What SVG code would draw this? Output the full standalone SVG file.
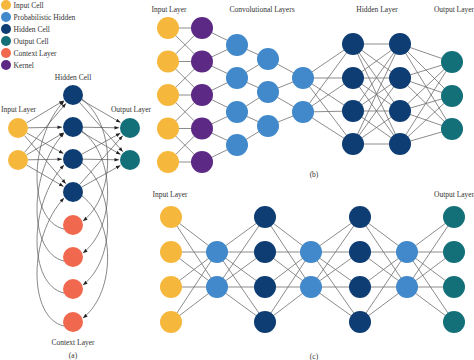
<svg xmlns="http://www.w3.org/2000/svg" width="474" height="360" viewBox="0 0 474 360">
<style>
text{font-family:"Liberation Serif","Times New Roman",serif;font-size:7.5px;fill:#333}
.m{text-anchor:middle}
.in{fill:#F6B83C}
.ph{fill:#4189CB}
.hd{fill:#0E3D73}
.out{fill:#137079}
.ctx{fill:#F0694E}
.ker{fill:#5C2A85}
.ln{fill:none;stroke:#6e6e6e;stroke-width:0.8}
.ar{fill:none;stroke:#555;stroke-width:0.7;marker-end:url(#arr)}
</style>
<defs>
<marker id="arr" viewBox="0 0 10 10" refX="10" refY="5" markerWidth="5" markerHeight="4.5" markerUnits="userSpaceOnUse" orient="auto"><path d="M0 1L10 5L0 9z" fill="#222"/></marker>
</defs>
<rect width="474" height="360" fill="#fff"/>
<g id="legend">
<g id="lg-input"><circle class="in" cx="6" cy="5" r="5"/><text x="13.5" y="7.5">Input Cell</text></g>
<g id="lg-prob"><circle class="ph" cx="6" cy="17" r="5"/><text x="13.5" y="19.5">Probabilistic Hidden</text></g>
<g id="lg-hidden"><circle class="hd" cx="6" cy="29" r="5"/><text x="13.5" y="31.5">Hidden Cell</text></g>
<g id="lg-output"><circle class="out" cx="6" cy="41" r="5"/><text x="13.5" y="43.5">Output Cell</text></g>
<g id="lg-context"><circle class="ctx" cx="6" cy="53" r="5"/><text x="13.5" y="55.5">Context Layer</text></g>
<g id="lg-kernel"><circle class="ker" cx="6" cy="65" r="5"/><text x="13.5" y="67.5">Kernel</text></g>
</g>
<g id="labels">
<text class="m" x="73" y="79.5">Hidden Cell</text>
<text class="m" x="18.5" y="111.5">Input Layer</text>
<text class="m" x="131" y="111.5">Output Layer</text>
<text class="m" x="73" y="344.5">Context Layer</text>
<text class="m" x="73" y="357.5">(a)</text>
<text class="m" x="169" y="11.5">Input Layer</text>
<text class="m" x="262" y="11.5">Convolutional Layers</text>
<text class="m" x="377" y="11.5">Hidden Layer</text>
<text class="m" x="454" y="11.5">Output Layer</text>
<text class="m" x="314" y="176.5">(b)</text>
<text class="m" x="170" y="196.5">Input Layer</text>
<text x="434" y="196.5">Output Layer</text>
<text class="m" x="314" y="359">(c)</text>
</g>
<g id="connectors">
<!-- (a) -->
<path class="ar" d="M26.6 122.9L63.6 100.7"/>
<path class="ar" d="M28 127.8L62 127.2"/>
<path class="ar" d="M26.7 132.9L63.4 153.6"/>
<path class="ar" d="M24.5 135.6L65.8 183.7"/>
<path class="ar" d="M24.5 152.4L65.9 103.4"/>
<path class="ar" d="M26.6 154.9L63.6 132.7"/>
<path class="ar" d="M28 159.8L62 159.2"/>
<path class="ar" d="M26.6 165L63.5 186.5"/>
<path class="ar" d="M81.6 100L120.5 122.5"/>
<path class="ar" d="M79.6 102.5L122.8 151.7"/>
<path class="ar" d="M83 127.2L119 127.8"/>
<path class="ar" d="M81.6 132L120.5 154.5"/>
<path class="ar" d="M81.8 154.2L120.3 133.3"/>
<path class="ar" d="M83 159.2L119 159.8"/>
<path class="ar" d="M79.7 184.5L122.7 135.8"/>
<path class="ar" d="M81.7 187.1L120.4 165.4"/>
<path class="ar" d="M82 99C116 125 116 195 83 221"/>
<path class="ar" d="M82 131C116 157 116 227 83 253"/>
<path class="ar" d="M82 163C116 189 116 259 83 285"/>
<path class="ar" d="M82 196C116 222 116 292 83 318"/>
<path class="ar" d="M64 229C28 221 28 140 64 101"/>
<path class="ar" d="M64 261C28 253 28 172 64 133"/>
<path class="ar" d="M64 293C28 285 28 204 64 165"/>
<path class="ar" d="M64 326C28 318 28 237 64 198"/>
<!-- (b) -->
<path class="ln" d="M168 28L202 28M168 61.5L202 61.5M168 95L202 95M168 128.5L202 128.5M168 162L202 162M168 28L202 61.5M168 61.5L202 95M168 95L202 128.5M168 128.5L202 162M168 61.5L202 28M168 95L202 61.5M168 128.5L202 95M168 162L202 128.5"/>
<path class="ln" d="M202 28L237 45M202 61.5L237 45M202 61.5L237 78M202 95L237 78M202 95L237 112M202 128.5L237 112M202 128.5L237 145M202 162L237 145"/>
<path class="ln" d="M237 45L268 59M237 78L268 59M237 78L268 92M237 112L268 92M237 112L268 126M237 145L268 126"/>
<path class="ln" d="M268 59L303 78M268 92L303 78M268 92L303 112M268 126L303 112"/>
<path class="ln" d="M303 78L353 44M303 78L353 78M303 78L353 111M303 78L353 144M303 112L353 44M303 112L353 78M303 112L353 111M303 112L353 144"/>
<path class="ln" d="M353 44L400 44M353 44L400 78M353 44L400 111M353 44L400 144M353 78L400 44M353 78L400 78M353 78L400 111M353 78L400 144M353 111L400 44M353 111L400 78M353 111L400 111M353 111L400 144M353 144L400 44M353 144L400 78M353 144L400 111M353 144L400 144"/>
<path class="ln" d="M400 44L452 62M400 44L452 96M400 44L452 129M400 78L452 62M400 78L452 96M400 78L452 129M400 111L452 62M400 111L452 96M400 111L452 129M400 144L452 62M400 144L452 96M400 144L452 129"/>
<!-- (c) -->
<path class="ln" d="M171 217L217 252M171 217L217 287M171 252L217 252M171 252L217 287M171 287L217 252M171 287L217 287M171 322L217 252M171 322L217 287"/>
<path class="ln" d="M217 252L265 217M217 252L265 252M217 252L265 287M217 252L265 322M217 287L265 217M217 287L265 252M217 287L265 287M217 287L265 322"/>
<path class="ln" d="M265 217L311 252M265 217L311 287M265 252L311 252M265 252L311 287M265 287L311 252M265 287L311 287M265 322L311 252M265 322L311 287"/>
<path class="ln" d="M311 252L360 217M311 252L360 252M311 252L360 287M311 252L360 322M311 287L360 217M311 287L360 252M311 287L360 287M311 287L360 322"/>
<path class="ln" d="M360 217L407 252M360 217L407 287M360 252L407 252M360 252L407 287M360 287L407 252M360 287L407 287M360 322L407 252M360 322L407 287"/>
<path class="ln" d="M407 252L454 217M407 252L454 252M407 252L454 287M407 252L454 322M407 287L454 217M407 287L454 252M407 287L454 287M407 287L454 322"/>
</g>
<g id="nodes-a">
<g id="a-in1"><circle class="in" cx="18" cy="128" r="10"/></g>
<g id="a-in2"><circle class="in" cx="18" cy="160" r="10"/></g>
<g id="a-h1"><circle class="hd" cx="73" cy="95" r="10"/></g>
<g id="a-h2"><circle class="hd" cx="73" cy="127" r="10"/></g>
<g id="a-h3"><circle class="hd" cx="73" cy="159" r="10"/></g>
<g id="a-h4"><circle class="hd" cx="73" cy="192" r="10"/></g>
<g id="a-o1"><circle class="out" cx="130" cy="128" r="10"/></g>
<g id="a-o2"><circle class="out" cx="130" cy="160" r="10"/></g>
<g id="a-c1"><circle class="ctx" cx="73" cy="225" r="10"/></g>
<g id="a-c2"><circle class="ctx" cx="73" cy="257" r="10"/></g>
<g id="a-c3"><circle class="ctx" cx="73" cy="289" r="10"/></g>
<g id="a-c4"><circle class="ctx" cx="73" cy="322" r="10"/></g>
</g>
<g id="nodes-b">
<g id="b-in1"><circle class="in" cx="168" cy="28" r="11"/></g>
<g id="b-in2"><circle class="in" cx="168" cy="61.5" r="11"/></g>
<g id="b-in3"><circle class="in" cx="168" cy="95" r="11"/></g>
<g id="b-in4"><circle class="in" cx="168" cy="128.5" r="11"/></g>
<g id="b-in5"><circle class="in" cx="168" cy="162" r="11"/></g>
<g id="b-k1"><circle class="ker" cx="202" cy="28" r="11"/></g>
<g id="b-k2"><circle class="ker" cx="202" cy="61.5" r="11"/></g>
<g id="b-k3"><circle class="ker" cx="202" cy="95" r="11"/></g>
<g id="b-k4"><circle class="ker" cx="202" cy="128.5" r="11"/></g>
<g id="b-k5"><circle class="ker" cx="202" cy="162" r="11"/></g>
<g id="b-c1-1"><circle class="ph" cx="237" cy="45" r="11"/></g>
<g id="b-c1-2"><circle class="ph" cx="237" cy="78" r="11"/></g>
<g id="b-c1-3"><circle class="ph" cx="237" cy="112" r="11"/></g>
<g id="b-c1-4"><circle class="ph" cx="237" cy="145" r="11"/></g>
<g id="b-c2-1"><circle class="ph" cx="268" cy="59" r="11"/></g>
<g id="b-c2-2"><circle class="ph" cx="268" cy="92" r="11"/></g>
<g id="b-c2-3"><circle class="ph" cx="268" cy="126" r="11"/></g>
<g id="b-c3-1"><circle class="ph" cx="303" cy="78" r="11"/></g>
<g id="b-c3-2"><circle class="ph" cx="303" cy="112" r="11"/></g>
<g id="b-h1-1"><circle class="hd" cx="353" cy="44" r="11"/></g>
<g id="b-h1-2"><circle class="hd" cx="353" cy="78" r="11"/></g>
<g id="b-h1-3"><circle class="hd" cx="353" cy="111" r="11"/></g>
<g id="b-h1-4"><circle class="hd" cx="353" cy="144" r="11"/></g>
<g id="b-h2-1"><circle class="hd" cx="400" cy="44" r="11"/></g>
<g id="b-h2-2"><circle class="hd" cx="400" cy="78" r="11"/></g>
<g id="b-h2-3"><circle class="hd" cx="400" cy="111" r="11"/></g>
<g id="b-h2-4"><circle class="hd" cx="400" cy="144" r="11"/></g>
<g id="b-o1"><circle class="out" cx="452" cy="62" r="11"/></g>
<g id="b-o2"><circle class="out" cx="452" cy="96" r="11"/></g>
<g id="b-o3"><circle class="out" cx="452" cy="129" r="11"/></g>
</g>
<g id="nodes-c">
<g id="c-in1"><circle class="in" cx="171" cy="217" r="11"/></g>
<g id="c-in2"><circle class="in" cx="171" cy="252" r="11"/></g>
<g id="c-in3"><circle class="in" cx="171" cy="287" r="11"/></g>
<g id="c-in4"><circle class="in" cx="171" cy="322" r="11"/></g>
<g id="c-p1-1"><circle class="ph" cx="217" cy="252" r="11"/></g>
<g id="c-p1-2"><circle class="ph" cx="217" cy="287" r="11"/></g>
<g id="c-h1-1"><circle class="hd" cx="265" cy="217" r="11"/></g>
<g id="c-h1-2"><circle class="hd" cx="265" cy="252" r="11"/></g>
<g id="c-h1-3"><circle class="hd" cx="265" cy="287" r="11"/></g>
<g id="c-h1-4"><circle class="hd" cx="265" cy="322" r="11"/></g>
<g id="c-p2-1"><circle class="ph" cx="311" cy="252" r="11"/></g>
<g id="c-p2-2"><circle class="ph" cx="311" cy="287" r="11"/></g>
<g id="c-h2-1"><circle class="hd" cx="360" cy="217" r="11"/></g>
<g id="c-h2-2"><circle class="hd" cx="360" cy="252" r="11"/></g>
<g id="c-h2-3"><circle class="hd" cx="360" cy="287" r="11"/></g>
<g id="c-h2-4"><circle class="hd" cx="360" cy="322" r="11"/></g>
<g id="c-p3-1"><circle class="ph" cx="407" cy="252" r="11"/></g>
<g id="c-p3-2"><circle class="ph" cx="407" cy="287" r="11"/></g>
<g id="c-o1"><circle class="out" cx="454" cy="217" r="11"/></g>
<g id="c-o2"><circle class="out" cx="454" cy="252" r="11"/></g>
<g id="c-o3"><circle class="out" cx="454" cy="287" r="11"/></g>
<g id="c-o4"><circle class="out" cx="454" cy="322" r="11"/></g>
</g>
</svg>
